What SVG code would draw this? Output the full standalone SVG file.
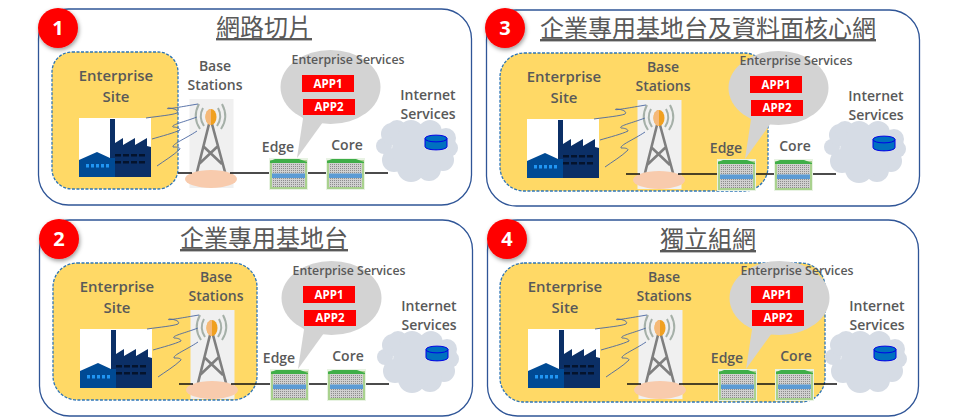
<svg xmlns="http://www.w3.org/2000/svg" width="960" height="420" viewBox="0 0 960 420">
<style>
.frame{fill:#fff;stroke:#2F5597;stroke-width:1.3}
.site{fill:#FFD966;stroke:#2E75B6;stroke-width:1.3;stroke-dasharray:3 1.5}
.lbl{font-family:"Open Sans","Liberation Sans",sans-serif;font-weight:600;font-size:14px;fill:#595959;text-anchor:middle}
.big{font-size:14.9px}
.es{font-size:12.3px}
.app{font-family:"Open Sans","Liberation Sans",sans-serif;font-weight:700;font-size:11.5px;fill:#fff;text-anchor:middle}
.title{font-family:"Noto Sans CJK TC","Noto Sans",sans-serif;font-size:24px;fill:#595959;text-anchor:middle;text-decoration:underline}
.num{font-family:"Open Sans","Liberation Sans",sans-serif;font-weight:700;font-size:20px;fill:#fff;text-anchor:middle}
.link{stroke:#111;stroke-width:1.3;fill:none}
.radio{stroke:#4A66A0;stroke-width:.9;fill:none}
.leg{stroke:#7F7F7F;stroke-width:2.6;fill:none}
</style>
<defs>
<filter id="sh" x="-30%" y="-30%" width="170%" height="170%"><feDropShadow dx="1" dy="2" stdDeviation="2" flood-color="#000" flood-opacity=".4"/></filter>
<pattern id="mesh" width="2" height="2" patternUnits="userSpaceOnUse"><rect width="2" height="2" fill="#D0D0D0"/><rect width="1" height="1" fill="#8C8C8C"/></pattern>
<g id="factory">
<rect x="79" y="118" width="72" height="59" fill="#fff"/>
<path d="M79 177V160L97 152 110 158H115V177Z" fill="#004A94"/>
<path d="M115 177V158H110V119H115V143L123 138V145L135 138V145L147 138V146L151 147V177Z" fill="#0B2F66"/>
<g fill="#2196F3"><rect x="86" y="164" width="3" height="3.500"/><rect x="91" y="164" width="3" height="3.500"/><rect x="96" y="164" width="3" height="3.500"/><rect x="101" y="164" width="3" height="3.500"/><rect x="106" y="164" width="3" height="3.500"/></g>
<g fill="#04132C"><rect x="115" y="154" width="6" height="2.500"/><rect x="123" y="154" width="6" height="2.500"/><rect x="131" y="154" width="6" height="2.500"/><rect x="139" y="154" width="6" height="2.500"/><rect x="115" y="161" width="6" height="2.500"/><rect x="123" y="161" width="6" height="2.500"/><rect x="131" y="161" width="6" height="2.500"/><rect x="139" y="161" width="6" height="2.500"/></g>
</g>
<g id="tower">
<rect x="189.500" y="99" width="44" height="89" fill="#F0F0F0"/>
<path class="leg" d="M209 124L197 172M212 124L225 172M203 146L222 164M218 146L199 164"/>
<path d="M203 108Q198 117 204 126M199 104Q192 117 200 129M218 108Q223 117 217 126M222 104Q229 117 221 129" fill="none" stroke="#A5B0A8" stroke-width="2"/>
<ellipse cx="211" cy="117" rx="5.500" ry="8" fill="#F0A020"/>
<path d="M211 109A5.500 8 0 0 0 211 125Z" fill="#F5B97A"/>
<ellipse cx="211" cy="179" rx="26" ry="9" fill="#F8CBAD"/>
</g>
<g id="server">
<rect width="39" height="32" fill="#E8F3E3"/>
<rect x="1" y="2" width="37" height="29" fill="#A9D18E"/>
<path d="M1 3L6 1H30L38 4V5H1Z" fill="#3FAE49"/>
<rect x="3" y="5" width="33" height="24" fill="url(#mesh)"/>
<rect x="3" y="15.500" width="33" height="4.500" fill="#5B9BD5"/>
</g>
<g id="cloud" fill="#D6DCE5">
<circle cx="384" cy="146" r="8"/><circle cx="392" cy="134" r="11"/><circle cx="397" cy="130" r="10"/><circle cx="411" cy="133" r="13"/><circle cx="430" cy="132" r="12"/><circle cx="446" cy="138" r="10"/><circle cx="449" cy="148" r="9"/><circle cx="443" cy="160" r="11"/><circle cx="429" cy="169" r="12"/><circle cx="411" cy="168" r="14"/><circle cx="394" cy="160" r="12"/><circle cx="418" cy="150" r="26"/>
</g>
<g id="db"><path d="M425 138.500C425 134 447 134 447 138.500V146.500C447 151 425 151 425 146.500Z" fill="#0070C0" stroke="#0000E6" stroke-width="1"/><path d="M425 138.500C425 143 447 143 447 138.500" fill="none" stroke="#0000E6" stroke-width="1"/></g>
<g id="bubble"><ellipse cx="330.500" cy="87" rx="50" ry="37" fill="#D3D3D3"/><path d="M304 112L297 158 323 122Z" fill="#D3D3D3"/></g>
<g id="radios" class="radio"><path d="M146 118C160 116 172 115 177 113C180 110 172 108 168 108C164 110 180 107 198 104"/><path d="M152 139C162 136 174 133 180 130C180 128 176 127 173 127C170 125 184 122 197 117"/><path d="M157 166C164 161 174 155 180 149C180 147 176 147 173 147C172 144 185 139 197 131"/></g>
<g id="links" class="link"><path d="M178 173H192M230 173H269M308 173H326M365 173H388"/></g>
</defs>

<g id="panel1">
<rect class="frame" x="38.500" y="9" width="433" height="196" rx="30"/>
<g id="p1-site"><rect class="site" x="52" y="52" width="126" height="137" rx="20"/><text class="lbl big" x="116" y="81">Enterprise</text><text class="lbl big" x="116" y="102">Site</text><use href="#factory"/></g>
<g id="p1-base"><use href="#tower"/><text class="lbl" x="215" y="71">Base</text><text class="lbl" x="215" y="90">Stations</text></g>
<g id="p1-services"><use href="#bubble"/><text class="lbl es" x="348" y="64">Enterprise Services</text><rect x="302" y="75" width="52" height="17" fill="#f00"/><text class="app" x="328" y="88">APP1</text><rect x="303" y="99" width="52" height="16" fill="#f00"/><text class="app" x="329" y="111">APP2</text></g>
<g id="p1-edge"><use href="#server" x="269" y="158"/><text class="lbl" x="278" y="152">Edge</text></g>
<g id="p1-core"><use href="#server" x="326" y="158"/><text class="lbl" x="347" y="150">Core</text></g>
<g id="p1-internet"><use href="#cloud"/><use href="#db"/><text class="lbl" x="428" y="100">Internet</text><text class="lbl" x="428" y="119">Services</text></g>
<g id="p1-connectors"><use href="#radios"/><use href="#links"/></g>
<g id="p1-badge"><circle cx="58" cy="28" r="20" fill="#f00" filter="url(#sh)"/><text class="num" x="58" y="35">1</text></g>
<text class="title" x="264" y="36">網路切片</text>
</g>

<g id="panel2" transform="translate(1 211)">
<rect class="frame" x="38.500" y="9" width="433" height="196" rx="30"/>
<g id="p2-site"><rect class="site" x="52" y="52" width="204" height="137" rx="24"/><text class="lbl big" x="116" y="81">Enterprise</text><text class="lbl big" x="116" y="102">Site</text><use href="#factory"/></g>
<g id="p2-base"><use href="#tower"/><text class="lbl" x="215" y="71">Base</text><text class="lbl" x="215" y="90">Stations</text></g>
<g id="p2-services"><use href="#bubble"/><text class="lbl es" x="348" y="64">Enterprise Services</text><rect x="302" y="75" width="52" height="17" fill="#f00"/><text class="app" x="328" y="88">APP1</text><rect x="303" y="99" width="52" height="16" fill="#f00"/><text class="app" x="329" y="111">APP2</text></g>
<g id="p2-edge"><use href="#server" x="269" y="158"/><text class="lbl" x="278" y="152">Edge</text></g>
<g id="p2-core"><use href="#server" x="326" y="158"/><text class="lbl" x="347" y="150">Core</text></g>
<g id="p2-internet"><use href="#cloud"/><use href="#db"/><text class="lbl" x="428" y="100">Internet</text><text class="lbl" x="428" y="119">Services</text></g>
<g id="p2-connectors"><use href="#radios"/><use href="#links"/></g>
<g id="p2-badge"><circle cx="58" cy="28" r="20" fill="#f00" filter="url(#sh)"/><text class="num" x="58" y="35">2</text></g>
<text class="title" x="263" y="36">企業專用基地台</text>
</g>

<g id="panel3" transform="translate(448 1)">
<rect class="frame" x="38.500" y="9" width="433" height="196" rx="30"/>
<g id="p3-site"><rect class="site" x="52" y="52" width="268" height="138" rx="24"/><text class="lbl big" x="116" y="81">Enterprise</text><text class="lbl big" x="116" y="102">Site</text><use href="#factory"/></g>
<g id="p3-base"><use href="#tower"/><text class="lbl" x="215" y="71">Base</text><text class="lbl" x="215" y="90">Stations</text></g>
<g id="p3-services"><use href="#bubble"/><text class="lbl es" x="348" y="64">Enterprise Services</text><rect x="302" y="75" width="52" height="17" fill="#f00"/><text class="app" x="328" y="88">APP1</text><rect x="303" y="99" width="52" height="16" fill="#f00"/><text class="app" x="329" y="111">APP2</text></g>
<g id="p3-edge"><use href="#server" x="269" y="158"/><text class="lbl" x="278" y="152">Edge</text></g>
<g id="p3-core"><use href="#server" x="326" y="158"/><text class="lbl" x="347" y="150">Core</text></g>
<g id="p3-internet"><use href="#cloud"/><use href="#db"/><text class="lbl" x="428" y="100">Internet</text><text class="lbl" x="428" y="119">Services</text></g>
<g id="p3-connectors"><use href="#radios"/><use href="#links"/></g>
<g id="p3-badge"><circle cx="57" cy="27" r="20" fill="#f00" filter="url(#sh)"/><text class="num" x="57" y="34">3</text></g>
<text class="title" x="260" y="36">企業專用基地台及資料面核心網</text>
</g>

<g id="panel4" transform="translate(449 211)">
<rect class="frame" x="38.500" y="9" width="431" height="196" rx="30"/>
<g id="p4-site"><rect class="site" x="51" y="52" width="325" height="139" rx="24"/><text class="lbl big" x="116" y="81">Enterprise</text><text class="lbl big" x="116" y="102">Site</text><use href="#factory"/></g>
<g id="p4-base"><use href="#tower"/><text class="lbl" x="215" y="71">Base</text><text class="lbl" x="215" y="90">Stations</text></g>
<g id="p4-services"><use href="#bubble"/><text class="lbl es" x="348" y="64">Enterprise Services</text><rect x="302" y="75" width="52" height="17" fill="#f00"/><text class="app" x="328" y="88">APP1</text><rect x="303" y="99" width="52" height="16" fill="#f00"/><text class="app" x="329" y="111">APP2</text></g>
<g id="p4-edge"><use href="#server" x="269" y="158"/><text class="lbl" x="278" y="152">Edge</text></g>
<g id="p4-core"><use href="#server" x="326" y="158"/><text class="lbl" x="347" y="150">Core</text></g>
<g id="p4-internet"><use href="#cloud"/><use href="#db"/><text class="lbl" x="428" y="100">Internet</text><text class="lbl" x="428" y="119">Services</text></g>
<g id="p4-connectors"><use href="#radios"/><use href="#links"/></g>
<g id="p4-badge"><circle cx="58" cy="28" r="20" fill="#f00" filter="url(#sh)"/><text class="num" x="58" y="35">4</text></g>
<text class="title" x="259" y="37">獨立組網</text>
</g>
</svg>
